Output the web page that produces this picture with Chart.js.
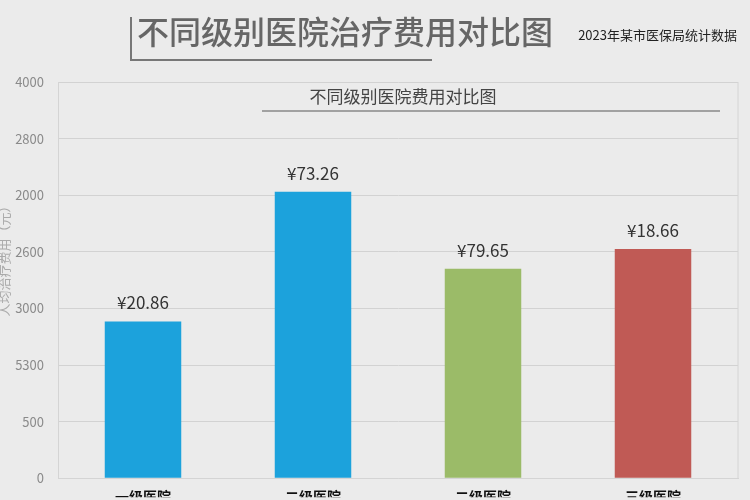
<!DOCTYPE html>
<html lang="zh">
<head>
    <meta charset="UTF-8">
    <title>不同级别医院治疗费用对比图</title>
    <script src="https://cdn.jsdelivr.net/npm/chart.js"></script>
    <style>
        html, body { margin: 0; padding: 0; background: #ebebeb; }
        #wrap { width: 750px; height: 500px; }
    </style>
</head>
<body>
    <div id="wrap"><canvas id="costChart" width="750" height="500"></canvas></div>

    <script>
        // Data
        const categories = ['一级医院', '二级医院', '二级医院', '三级医院'];
        const barValues = [1385, 2530, 1850, 2025];
        const valueLabels = ['¥20.86', '¥73.26', '¥79.65', '¥18.66'];
        const yTickLabels = ['0', '500', '5300', '3000', '2600', '2000', '2800', '4000'];
        const barColors = ['#1ca2dc', '#1ca2dc', '#9bbb68', '#c05a55'];

        const FONT = '"Noto Sans CJK SC", "Noto Sans", sans-serif';

        // Titles, frame and value labels
        const decorations = {
            id: 'decorations',
            afterDraw(chart) {
                const ctx = chart.ctx;
                const area = chart.chartArea;
                ctx.save();

                // main title with bracket line
                ctx.fillStyle = '#666';
                ctx.font = '500 32px ' + FONT;
                ctx.textAlign = 'left';
                ctx.textBaseline = 'middle';
                ctx.fillText('不同级别医院治疗费用对比图', 137, 32);
                ctx.strokeStyle = '#777';
                ctx.lineWidth = 2;
                ctx.beginPath();
                ctx.moveTo(131, 17);
                ctx.lineTo(131, 60);
                ctx.lineTo(432, 60);
                ctx.stroke();

                // source note
                ctx.fillStyle = '#222';
                ctx.font = '13px ' + FONT;
                ctx.textAlign = 'right';
                ctx.fillText('2023年某市医保局统计数据', 737, 35);

                // inner subtitle
                ctx.fillStyle = '#444';
                ctx.font = '17px ' + FONT;
                ctx.textAlign = 'center';
                ctx.fillText('不同级别医院费用对比图', 403, 97);
                ctx.strokeStyle = '#888';
                ctx.lineWidth = 1.5;
                ctx.beginPath();
                ctx.moveTo(262, 111);
                ctx.lineTo(720, 111);
                ctx.stroke();

                // right frame edge
                ctx.strokeStyle = '#d4d4d4';
                ctx.lineWidth = 1;
                ctx.beginPath();
                ctx.moveTo(area.right, area.top);
                ctx.lineTo(area.right, area.bottom);
                ctx.stroke();

                // y axis title
                ctx.save();
                ctx.translate(4, 258);
                ctx.rotate(-Math.PI / 2);
                ctx.fillStyle = '#aaa';
                ctx.font = '13px ' + FONT;
                ctx.fillText('人均治疗费用（元）', 0, 0);
                ctx.restore();

                // value labels over bars
                const meta = chart.getDatasetMeta(0);
                ctx.fillStyle = '#333';
                ctx.font = '17px ' + FONT;
                ctx.textAlign = 'center';
                ctx.textBaseline = 'bottom';
                meta.data.forEach((bar, i) => {
                    ctx.fillText(valueLabels[i], bar.x, bar.y - 10);
                });
                ctx.restore();
            }
        };

        new Chart(document.getElementById('costChart'), {
            type: 'bar',
            data: {
                labels: categories,
                datasets: [{
                    data: barValues,
                    backgroundColor: barColors,
                    barPercentage: 0.45,
                    categoryPercentage: 1
                }]
            },
            options: {
                responsive: false,
                animation: false,
                layout: { padding: { left: 0, right: 12, top: 82, bottom: 0 } },
                plugins: {
                    legend: { display: false },
                    tooltip: { enabled: false }
                },
                scales: {
                    x: {
                        grid: { display: false, drawTicks: false },
                        border: { color: '#d4d4d4' },
                        ticks: {
                            padding: 10,
                            color: '#111',
                            font: { family: FONT, size: 14, weight: 'bold' }
                        },
                        afterFit(scale) { scale.height = 19; }
                    },
                    y: {
                        min: 0,
                        max: 3500,
                        grid: { color: '#d2d2d2', drawTicks: false },
                        border: { color: '#d4d4d4' },
                        ticks: {
                            stepSize: 500,
                            padding: 14,
                            color: '#8a8a8a',
                            font: { family: FONT, size: 13 },
                            callback: (v, i) => yTickLabels[i]
                        },
                        afterFit(scale) { scale.width = 58; }
                    }
                }
            },
            plugins: [decorations]
        });
    </script>
</body>
</html>
